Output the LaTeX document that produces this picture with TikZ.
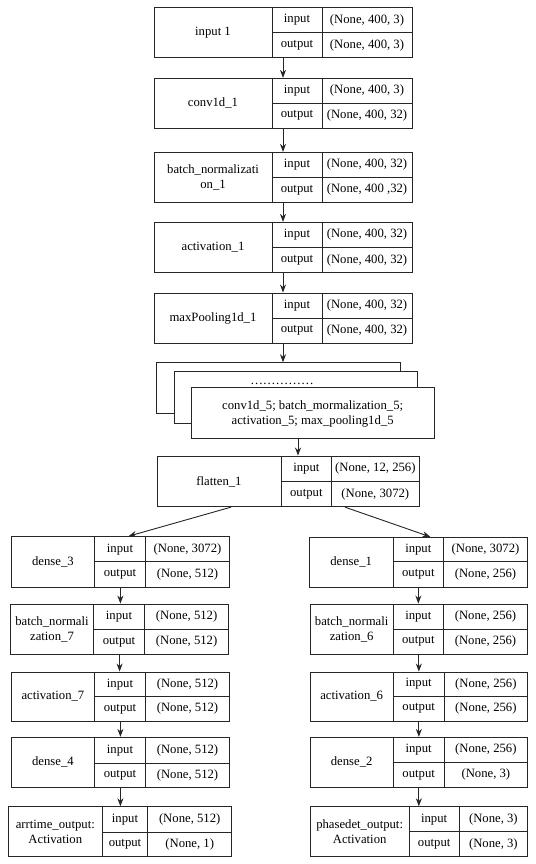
\documentclass[tikz,border=0pt]{standalone}
\usepackage{fontspec}
\setmainfont{Liberation Serif}
\usetikzlibrary{fit,calc,arrows.meta}
\newcommand\setxs[4]{\def\Lx{#1}\def\Ax{#2}\def\Bx{#3}\def\Rx{#4}}
\newcommand\layer[7]{%
  \node[cell, fit={(\Lx,#2) (\Rx,#4)}] (#1) {};
  \node[cell, fit={(\Lx,#2) (\Ax,#4)}] (#1n) {};
  \node[cell, fit={(\Ax,#2) (\Bx,#3)}] (#1i) {};
  \node[cell, fit={(\Ax,#3) (\Bx,#4)}] (#1o) {};
  \node[cell, fit={(\Bx,#2) (\Rx,#3)}] (#1is) {};
  \node[cell, fit={(\Bx,#3) (\Rx,#4)}] (#1os) {};
  \node[txt] (#1nt) at (#1n.center) {#5};
  \node[txt] (#1it) at (#1i.center) {input};
  \node[txt] (#1ot) at (#1o.center) {output};
  \node[txt] (#1ist) at (#1is.center) {#6};
  \node[txt] (#1ost) at (#1os.center) {#7};
}
\newcommand\vlink[2]{\draw[arr] (#1.south) -- (#1.south |- #2.north);}
\begin{document}
\begin{tikzpicture}[x=1bp,y=-1bp,
  cell/.style={draw=black!85, line width=0.9bp, inner sep=0pt},
  stackbox/.style={draw=black!85, fill=white, line width=0.9bp, inner sep=0pt},
  txt/.style={inner sep=0pt, align=center, font=\fontsize{12.7bp}{15bp}\selectfont},
  arr/.style={draw=black!85, line width=0.9bp, -{Stealth[length=8bp,width=6bp]}}]
\useasboundingbox[fill=white] (0,0) rectangle (536,864);

% top column
\setxs{154}{272}{322}{412}
\layer{in1}{7.5}{32.7}{57.5}{input 1}{(None, 400, 3)}{(None, 400, 3)}
\layer{conv}{78.3}{103}{128.3}{conv1d\_1}{(None, 400, 3)}{(None, 400, 32)}
\layer{bna}{152.3}{177.3}{202.3}{batch\_normalizati\\on\_1}{(None, 400, 32)}{(None, 400 ,32)}
\layer{acta}{222.3}{247.3}{272.7}{activation\_1}{(None, 400, 32)}{(None, 400, 32)}
\layer{mp}{293}{318}{343.3}{maxPooling1d\_1}{(None, 400, 32)}{(None, 400, 32)}

% stacked boxes
\node[stackbox, fit={(156.7,362.7) (400.7,413.3)}] (back) {};
\node[stackbox, fit={(174,371.7) (417.7,423.3)}] (middle) {};
\node[txt, anchor=base] (dots) at (282,384) {……………};
\node[stackbox, fit={(191,387.7) (434.3,438.3)}] (front) {};
\node[txt] (frontt) at ($(front.center)+(0,1)$)
  {conv1d\_5; batch\_mormalization\_5;\\activation\_5; max\_pooling1d\_5};

% flatten
\setxs{157}{281}{331.7}{419}
\layer{flat}{456}{481.7}{506.7}{flatten\_1}{(None, 12, 256)}{(None, 3072)}

% left column
\setxs{11.5}{94.3}{145.7}{229.3}
\layer{dc}{536.7}{561.7}{587.3}{dense\_3}{(None, 3072)}{(None, 512)}
\setxs{10.5}{93.5}{144.5}{228.7}
\layer{bng}{604}{629.3}{654.3}{batch\_normali\\zation\_7}{(None, 512)}{(None, 512)}
\setxs{11.5}{94.3}{145.7}{229.3}
\layer{actg}{672}{696.7}{721}{activation\_7}{(None, 512)}{(None, 512)}
\layer{dd}{737.3}{763}{787.3}{dense\_4}{(None, 512)}{(None, 512)}
\setxs{8.3}{102.3}{147.7}{231.7}
\layer{arrt}{806.7}{832.3}{856.7}{arrtime\_output:\\Activation}{(None, 512)}{(None, 1)}

% right column
\setxs{309}{393.3}{443.3}{527.7}
\layer{da}{537.3}{561.7}{587.3}{dense\_1}{(None, 3072)}{(None, 256)}
\setxs{310}{393.3}{443.3}{527.7}
\layer{bnf}{604}{629}{654}{batch\_normali\\zation\_6}{(None, 256)}{(None, 256)}
\setxs{310}{393.3}{444}{527.7}
\layer{actf}{672}{696}{721}{activation\_6}{(None, 256)}{(None, 256)}
\layer{db}{737.3}{762.3}{787.3}{dense\_2}{(None, 256)}{(None, 3)}
\setxs{310}{409.3}{459}{527.7}
\layer{phd}{806.7}{831.7}{856.7}{phasedet\_output:\\Activation}{(None, 3)}{(None, 3)}

% connectors
\vlink{in1}{conv}
\vlink{conv}{bna}
\vlink{bna}{acta}
\vlink{acta}{mp}
\draw[arr] (mp.south) -- (mp.south |- back.north);
\coordinate (cx) at (298,0);
\draw[arr] (front.south -| cx) -- (flat.north -| cx);
\draw[arr] ($(flat.south)+(-57,0)$) -- ($(dc.north)+(8,0)$);
\draw[arr] ($(flat.south)+(57,0)$) -- ($(da.north)+(12,0)$);
\vlink{dc}{bng}
\vlink{bng}{actg}
\vlink{actg}{dd}
\vlink{dd}{arrt}
\vlink{da}{bnf}
\vlink{bnf}{actf}
\vlink{actf}{db}
\vlink{db}{phd}
\end{tikzpicture}
\end{document}
